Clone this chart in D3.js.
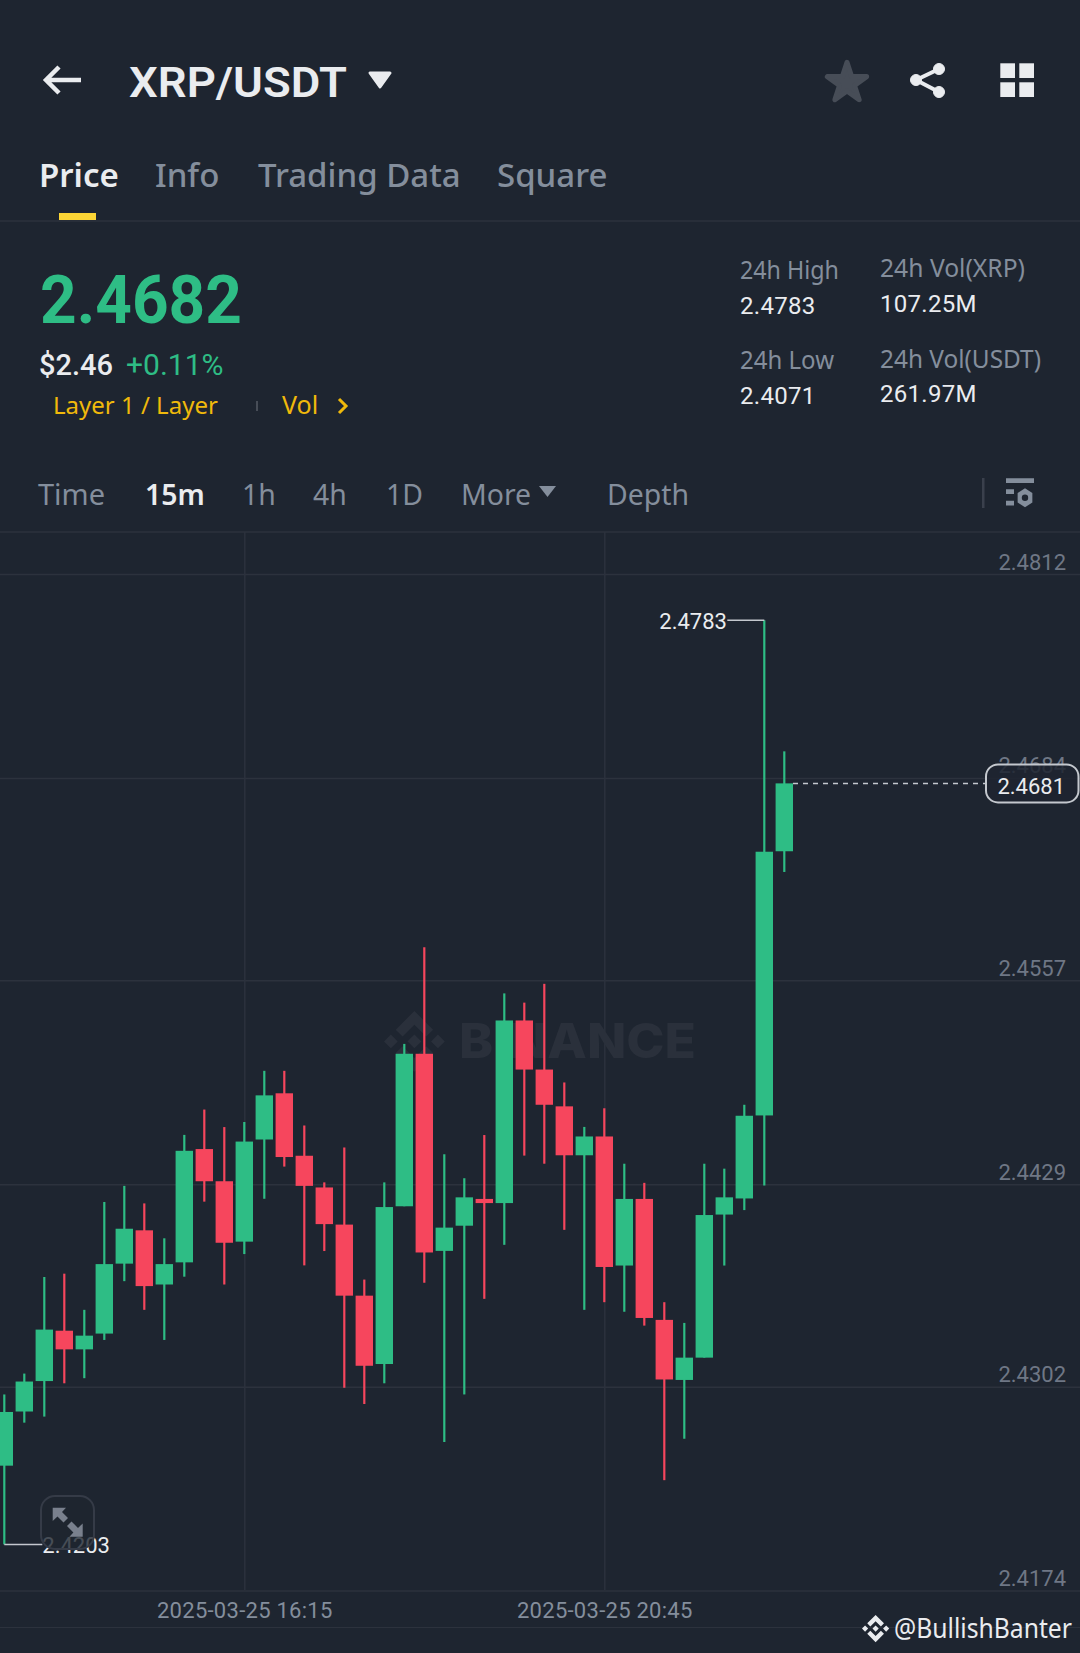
<!DOCTYPE html>
<html>
<head>
<meta charset="utf-8">
<script src="https://cdn.jsdelivr.net/npm/d3@7"></script>
<style>
  html, body { margin: 0; padding: 0; background: #1e2530; }
  svg { display: block; }
  text { font-family: 'Noto Sans', sans-serif; }
  .num { font-family: 'Roboto', sans-serif; }
</style>
</head>
<body>
<div class="container"></div>
<script>
// candles, 15m apart, first one at 13:15
const startTime = '2025-03-25T13:15:00Z';
const opens = [2.42524, 2.42864, 2.43055, 2.43371, 2.43254, 2.43353, 2.43792, 2.44001, 2.43661, 2.438,
  2.44511, 2.44309, 2.4393, 2.44571, 2.44861, 2.44469, 2.4427, 2.44037, 2.43591, 2.43162,
  2.44152, 2.45109, 2.43872, 2.4403, 2.44198, 2.44172, 2.45318, 2.4501, 2.44779, 2.44472,
  2.4459, 2.4378, 2.44198, 2.43439, 2.43062, 2.43202, 2.441, 2.44201, 2.44722, 2.4638];
const closes = [2.42861, 2.43052, 2.43378, 2.43254, 2.4334, 2.43789, 2.44011, 2.43651, 2.43789, 2.445,
  2.44309, 2.43923, 2.44558, 2.44848, 2.44461, 2.4428, 2.4404, 2.43591, 2.43151, 2.44147,
  2.45109, 2.43862, 2.44018, 2.44208, 2.44172, 2.45318, 2.4501, 2.44789, 2.44472, 2.4459,
  2.43771, 2.44198, 2.43451, 2.43065, 2.43202, 2.44097, 2.44208, 2.4472, 2.46377, 2.46806];
const highs = [2.42971, 2.43102, 2.43708, 2.43729, 2.43502, 2.44179, 2.4428, 2.4417, 2.43951, 2.446,
  2.44759, 2.44649, 2.44681, 2.45002, 2.45002, 2.44659, 2.44302, 2.44521, 2.43692, 2.44302,
  2.45171, 2.45778, 2.44479, 2.44328, 2.44599, 2.45488, 2.4543, 2.45548, 2.44929, 2.4465,
  2.44767, 2.44419, 2.44299, 2.4355, 2.4342, 2.44419, 2.44388, 2.44789, 2.4783, 2.47007];
const lows = [2.4203, 2.42794, 2.42832, 2.43041, 2.43073, 2.43313, 2.43682, 2.43502, 2.43313, 2.4371,
  2.44181, 2.43661, 2.43852, 2.44199, 2.44401, 2.43781, 2.43871, 2.43013, 2.42911, 2.43041,
  2.44152, 2.43672, 2.42673, 2.42971, 2.43571, 2.4391, 2.4447, 2.44419, 2.44004, 2.43502,
  2.4355, 2.4349, 2.43403, 2.42433, 2.42693, 2.43202, 2.4378, 2.44128, 2.44282, 2.4625];

const priceTicks = [2.4812, 2.4684, 2.4557, 2.4429, 2.4302, 2.4174];
const timeTicks = ['2025-03-25T16:15:00Z', '2025-03-25T20:45:00Z'];

const tabs = ['Price', 'Info', 'Trading Data', 'Square'];
const tabX = [39, 155, 258, 497];
const intervals = ['Time', '15m', '1h', '4h', '1D', 'More', 'Depth'];
const intervalX = [38, 145, 242, 313, 386, 461, 607];

const stats = [
  ['24h High', '2.4783', 740, 279, 314, 99],
  ['24h Vol(XRP)', '107.25M', 880, 277, 312, 145],
  ['24h Low', '2.4071', 740, 369, 404, 94],
  ['24h Vol(USDT)', '261.97M', 880, 368, 402, 161],
];

const width = 1080;
const height = 1653;
const bg = '#1e2530';
const green = '#2ebd85';
const red = '#f6465d';
const gray = '#848e9c';
const white = '#eaecef';
const gridColor = '#2c323d';
const logoPath = 'M38.73 53.2l24.59-24.58 24.6 24.6 14.3-14.31L63.32 0 24.43 38.89zM0 63.31l14.3-14.31 14.31 14.31-14.31 14.3zM38.73 73.41l24.59 24.59 24.6-24.6 14.31 14.29-38.9 38.91-38.91-38.88-.02-.02zM98 63.31l14.3-14.3 14.31 14.3-14.31 14.31zM77.83 63.3L63.32 48.78 52.59 59.51l-1.24 1.23-2.54 2.54 14.51 14.5 14.51-14.47z';

const times = opens.map((d, i) => new Date(+new Date(startTime) + i * 15 * 60000));
const candles = opens.map((d, i) => ({
  time: times[i],
  open: opens[i],
  close: closes[i],
  high: highs[i],
  low: lows[i],
}));

const svg = d3
  .select('.container')
  .append('svg')
  .attr('width', width)
  .attr('height', height)
  .attr('viewBox', `0 0 ${width} ${height}`);

svg.append('rect').attr('width', width).attr('height', height).attr('fill', bg);

const label = (x, y, txt, size, fill, weight = 400, cls = '', spacing = 0) =>
  svg
    .append('text')
    .attr('class', cls)
    .attr('x', x)
    .attr('y', y)
    .attr('font-size', size)
    .attr('font-weight', weight)
    .attr('letter-spacing', spacing)
    .attr('fill', fill)
    .text(txt);

// squeeze a text into the width it has in the screenshot
const fit = (sel, w) => sel.attr('textLength', w).attr('lengthAdjust', 'spacingAndGlyphs');

// header
svg
  .append('path')
  .attr('d', 'M81 80H47M59 67L46 80L59 93')
  .attr('fill', 'none')
  .attr('stroke', white)
  .attr('stroke-width', 4.5);
fit(label(129, 97, 'XRP/USDT', 42, white, 600, 'num'), 218);
svg
  .append('path')
  .attr('d', 'M370 73H390L380 87Z')
  .attr('fill', white)
  .attr('stroke', white)
  .attr('stroke-width', 3)
  .attr('stroke-linejoin', 'round');

svg
  .append('path')
  .attr('transform', 'translate(847,83)')
  .attr('d', d3.symbol(d3.symbolStar, 480)())
  .attr('fill', '#474d57')
  .attr('stroke', '#474d57')
  .attr('stroke-width', 5)
  .attr('stroke-linejoin', 'round');

const share = svg.append('g').attr('stroke', white).attr('fill', white);
share
  .append('path')
  .attr('d', 'M916 80L939 69M916 80L939 92')
  .attr('stroke-width', 4)
  .attr('fill', 'none');
share.append('circle').attr('cx', 916).attr('cy', 80).attr('r', 5.5);
share.append('circle').attr('cx', 939).attr('cy', 69).attr('r', 5.5);
share.append('circle').attr('cx', 939).attr('cy', 92).attr('r', 5.5);

[[1000.3, 63.3], [1019.3, 63.3], [1000.3, 82.3], [1019.3, 82.3]].forEach(([x, y]) => {
  svg.append('rect').attr('x', x).attr('y', y).attr('width', 14.7).attr('height', 14.7).attr('fill', white);
});

// tabs
tabs.forEach((t, i) => {
  label(tabX[i], 187, t, 33, i === 0 ? white : gray, i === 0 ? 600 : 500);
});
svg.append('rect').attr('x', 59).attr('y', 213).attr('width', 37).attr('height', 7).attr('fill', '#fcd535');
svg.append('line').attr('x1', 0).attr('x2', width).attr('y1', 221).attr('y2', 221).attr('stroke', gridColor).attr('stroke-width', 1.5);

// price block
fit(label(40, 323, '2.4682', 67, green, 700, 'num'), 202);
label(39, 375, '$2.46', 29, white, 500, 'num');
label(126, 375, '+0.11%', 30, green, 400, 'num');
label(53, 414, 'Layer 1 / Layer', 24, '#f0b90b');
svg.append('rect').attr('x', 256).attr('y', 401).attr('width', 2).attr('height', 10).attr('fill', '#474d57');
label(282, 414, 'Vol', 25, '#f0b90b');
svg
  .append('path')
  .attr('d', 'M339 399L346 406L339 413')
  .attr('fill', 'none')
  .attr('stroke', '#f0b90b')
  .attr('stroke-width', 3);

stats.forEach(([name, value, x, y1, y2, w]) => {
  fit(label(x, y1, name, 25, gray), w);
  label(x, y2, value, 24, white, 400, 'num', 0.3);
});

// interval row
intervals.forEach((t, i) => {
  label(intervalX[i], 505, t, i === 0 ? 29 : 28.4, i === 1 ? white : gray, i === 1 ? 600 : 400);
});
svg.append('path').attr('d', 'M539 486H556L547.5 497Z').attr('fill', gray);
svg.append('rect').attr('x', 982).attr('y', 478).attr('width', 2.5).attr('height', 30).attr('fill', '#3a404c');
svg.append('path').attr('d', 'M1006 478.3H1034V483H1006ZM1006 489.3H1014V494H1006ZM1006 500.8H1014V505.6H1006Z').attr('fill', gray);
svg
  .append('path')
  .attr('transform', 'translate(1025,497.7)')
  .attr('d', d3.line().curve(d3.curveLinearClosed)(d3.range(6).map((i) => {
    const a = (Math.PI / 3) * i + Math.PI / 6;
    return [8.5 * Math.cos(a), 9.5 * Math.sin(a)];
  })))
  .attr('fill', gray);
svg.append('circle').attr('cx', 1025).attr('cy', 497.7).attr('r', 3.2).attr('fill', bg);

svg.append('line').attr('x1', 0).attr('x2', width).attr('y1', 532).attr('y2', 532).attr('stroke', gridColor).attr('stroke-width', 1.5);
svg.append('line').attr('x1', 0).attr('x2', width).attr('y1', 1627.5).attr('y2', 1627.5).attr('stroke', gridColor).attr('stroke-width', 1);

// scales
const yScale = d3.scaleLinear().domain([2.4812, 2.4174]).range([574, 1590.6]);
const xScale = d3
  .scaleUtc()
  .domain([times[0], times[times.length - 1]])
  .range([4.3, 784.3]);

const yAxis = d3
  .axisLeft(yScale)
  .tickValues(priceTicks)
  .tickFormat(d3.format('.4f'))
  .tickSize(width)
  .tickPadding(-width);

const yAxisG = svg
  .append('g')
  .attr('id', 'y-axis')
  .attr('transform', `translate(${width},0)`)
  .call(yAxis);
yAxisG.select('.domain').remove();
yAxisG.selectAll('line').attr('stroke', gridColor).attr('stroke-width', 1.5);
yAxisG
  .selectAll('text')
  .attr('class', 'num')
  .attr('x', -14)
  .attr('dy', -5)
  .attr('text-anchor', 'end')
  .attr('font-size', 22)
  .attr('fill', '#6f7785');

const xAxis = d3
  .axisBottom(xScale)
  .tickValues(timeTicks.map((d) => new Date(d)))
  .tickFormat(d3.utcFormat('%Y-%m-%d %H:%M'))
  .tickSize(-(1590 - 532))
  .tickPadding(0);

const xAxisG = svg
  .append('g')
  .attr('id', 'x-axis')
  .attr('transform', 'translate(0,1590)')
  .call(xAxis);
xAxisG.select('.domain').remove();
xAxisG.selectAll('line').attr('stroke', gridColor).attr('stroke-width', 1.5);
xAxisG
  .selectAll('text')
  .attr('class', 'num')
  .attr('y', 27.5)
  .attr('dy', 0)
  .attr('font-size', 22)
  .attr('letter-spacing', 0.27)
  .attr('fill', gray);

// binance watermark behind the candles
svg
  .append('path')
  .attr('transform', 'translate(384,1011) scale(0.48)')
  .attr('d', logoPath)
  .attr('fill', '#2a303b');
fit(label(459, 1058, 'BINANCE', 48, '#2a303b', 800).style('font-family', "'Inter', sans-serif"), 237);

// candles
const bodyWidth = 17.4;
const candleG = svg
  .append('g')
  .attr('id', 'candles')
  .selectAll('g')
  .data(candles)
  .enter()
  .append('g')
  .attr('fill', (d) => (d.close >= d.open ? green : red))
  .attr('stroke', (d) => (d.close >= d.open ? green : red));

candleG
  .append('line')
  .attr('x1', (d) => xScale(d.time))
  .attr('x2', (d) => xScale(d.time))
  .attr('y1', (d) => yScale(d.high))
  .attr('y2', (d) => yScale(d.low))
  .attr('stroke-width', 2.2);

candleG
  .append('rect')
  .attr('x', (d) => xScale(d.time) - bodyWidth / 2)
  .attr('y', (d) => yScale(Math.max(d.open, d.close)))
  .attr('width', bodyWidth)
  .attr('height', (d) => yScale(Math.min(d.open, d.close)) - yScale(Math.max(d.open, d.close)))
  .attr('stroke', 'none');

// high / low markers
const hiIdx = d3.maxIndex(highs);
const loIdx = d3.minIndex(lows);
const hx = xScale(times[hiIdx]);
const hy = yScale(highs[hiIdx]);
const lx = xScale(times[loIdx]);
const ly = yScale(lows[loIdx]);
svg.append('line').attr('x1', hx - 37).attr('x2', hx).attr('y1', hy).attr('y2', hy).attr('stroke', '#c4c8ce').attr('stroke-width', 1.5);
label(hx - 105, hy + 9, d3.format('.4f')(highs[hiIdx]), 22, white, 400, 'num');
svg.append('line').attr('x1', lx).attr('x2', lx + 38).attr('y1', ly).attr('y2', ly).attr('stroke', '#c4c8ce').attr('stroke-width', 1.5);
label(lx + 38, ly + 9, d3.format('.4f')(lows[loIdx]), 22, white, 400, 'num');

// last price line and tag
const lastClose = closes[closes.length - 1];
const lastY = yScale(lastClose);
svg
  .append('line')
  .attr('x1', xScale(times[times.length - 1]) + bodyWidth / 2)
  .attr('x2', 985)
  .attr('y1', lastY)
  .attr('y2', lastY)
  .attr('stroke', '#c4c8ce')
  .attr('stroke-width', 1.5)
  .attr('stroke-dasharray', '5 5');
svg
  .append('rect')
  .attr('x', 986)
  .attr('y', lastY - 19)
  .attr('width', 92.5)
  .attr('height', 38)
  .attr('rx', 12)
  .attr('fill', bg)
  .attr('fill-opacity', 0.85)
  .attr('stroke', '#c4c8ce')
  .attr('stroke-width', 2);
label(1065, lastY + 11, d3.format('.4f')(lastClose), 22, white, 400, 'num').attr('text-anchor', 'end');

// expand button
svg
  .append('rect')
  .attr('x', 41)
  .attr('y', 1496)
  .attr('width', 53)
  .attr('height', 53)
  .attr('rx', 14)
  .attr('fill', bg)
  .attr('fill-opacity', 0.8)
  .attr('stroke', '#353b47')
  .attr('stroke-width', 2);
svg
  .append('path')
  .attr('d', 'M52.7 1507.7H66L62 1512L68 1518L63.5 1522.5L57.5 1516.5L52.7 1521ZM82.7 1536.7H69.4L73.4 1532.4L67 1526L71.5 1521.5L78 1527.9L82.7 1523.4Z')
  .attr('fill', '#79808d');

// credit
svg
  .append('path')
  .attr('transform', 'translate(862,1615) scale(0.215)')
  .attr('d', logoPath)
  .attr('fill', white);
fit(label(894, 1638, '@BullishBanter', 27, white), 178);
</script>
</body>
</html>
